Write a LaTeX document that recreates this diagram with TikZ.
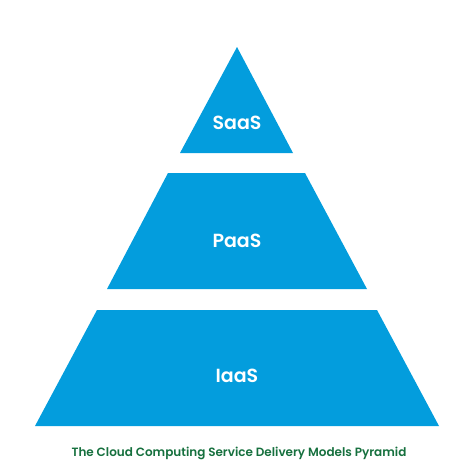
\documentclass[tikz,border=0pt]{standalone}
\usepackage{fontspec}
\setmainfont{Poppins}
\newfontfamily\semibold{Poppins SemiBold}
\usetikzlibrary{positioning}
\definecolor{tierblue}{RGB}{3,157,221}
\definecolor{titlegreen}{RGB}{22,112,62}

\begin{document}
\begin{tikzpicture}[
    x=1pt, y=-1pt,
    tier/.style={fill=tierblue, draw=none},
    label/.style={text=white, font=\fontsize{19}{23}\semibold},
    caption/.style={text=titlegreen, font=\fontsize{12}{14}\semibold}
]
\useasboundingbox (0,0) rectangle (474,474);

% 1. Tiers
\fill[tier] (237,47) -- (293,153) -- (180,153) -- cycle;
\fill[tier] (168,173) -- (305,173) -- (367,289) -- (107,289) -- cycle;
\fill[tier] (97,310) -- (377,310) -- (439,426) -- (35,426) -- cycle;

% 2. Labels
\node[label] (saas) at (237,123) {SaaS};
\node[label] (paas) at (237,241) {PaaS};
\node[label] (iaas) at (237,376) {IaaS};

% 3. Caption
\node[caption] (title) at (239,453) {The Cloud Computing Service Delivery Models Pyramid};

\end{tikzpicture}
\end{document}
